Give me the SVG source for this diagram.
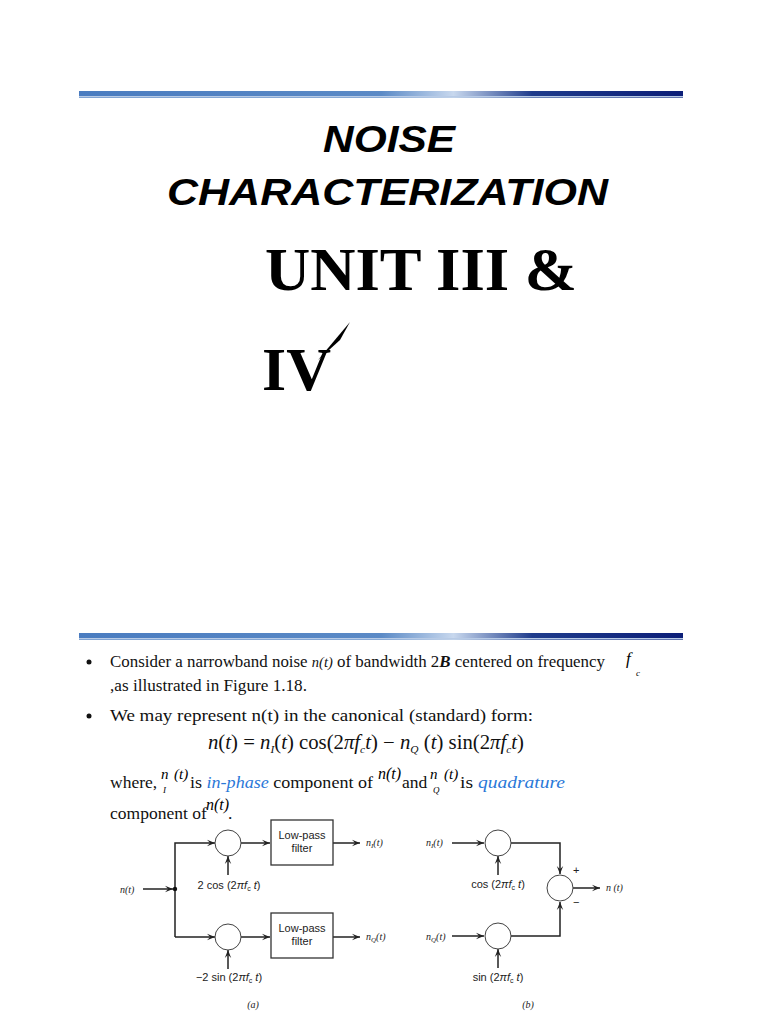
<svg xmlns="http://www.w3.org/2000/svg" width="768" height="1024" viewBox="0 0 768 1024">
<defs>
<linearGradient id="bar" x1="0" x2="1" y1="0" y2="0">
<stop offset="0" stop-color="#4a7cc0"/><stop offset="0.5" stop-color="#5b8ac6"/><stop offset="0.62" stop-color="#c8d8ee"/><stop offset="0.75" stop-color="#1f3c8c"/><stop offset="1" stop-color="#0c1e78"/>
</linearGradient>
<marker id="ah" viewBox="0 0 10 10" refX="10" refY="5" markerWidth="8" markerHeight="8" orient="auto" markerUnits="userSpaceOnUse"><path d="M0,1 L10,5 L0,9 L4,5 Z" fill="#222"/></marker>
</defs>
<style>
.t{font-family:"Liberation Serif",serif;font-size:17.5px;fill:#111}
.m{font-family:"Liberation Serif",serif;font-style:italic}
.b{font-family:"Liberation Serif",serif;font-style:italic;fill:#2a78d8}
.d{font-family:"Liberation Sans",Arial,sans-serif;font-size:11px;fill:#222}
.dl{font-family:"Liberation Serif",serif;font-style:italic;font-size:10px;fill:#222}
.ln{stroke:#222;stroke-width:1.5;fill:none}
.c{stroke:#444;stroke-width:1;fill:#fff}
.h{font-family:"Liberation Sans",Arial,sans-serif;font-weight:bold;font-style:italic;font-size:37px;fill:#000}
.u{font-family:"Liberation Serif",serif;font-weight:bold;font-size:62px;fill:#000}
</style>
<rect width="768" height="1024" fill="#fff"/>
<rect x="79" y="91" width="604" height="7" fill="url(#bar)"/>
<rect x="79" y="96" width="604" height="1.5" fill="#b8cbe6"/>
<rect x="79" y="633" width="604" height="7" fill="url(#bar)"/>
<rect x="79" y="638" width="604" height="1.5" fill="#b8cbe6"/>
<text class="h" x="323" y="152" textLength="132" lengthAdjust="spacingAndGlyphs">NOISE</text>
<text class="h" x="167" y="205" textLength="441" lengthAdjust="spacingAndGlyphs">CHARACTERIZATION</text>
<text class="u" x="265" y="290" textLength="312" lengthAdjust="spacingAndGlyphs">UNIT III &amp;</text>
<text class="u" x="262" y="390">IV</text>
<path d="M318,360 L350,322 L340,340 Z" fill="#000"/>
<circle cx="89" cy="662" r="2.5" fill="#111"/>
<text class="t" x="110" y="667" textLength="495" lengthAdjust="spacingAndGlyphs">Consider a narrowband noise <tspan class="m" font-size="15">n(t)</tspan> of bandwidth 2<tspan font-style="italic" font-weight="bold">B</tspan> centered on frequency</text>
<text class="m" x="626" y="664" font-size="17">f</text><text class="m" x="636" y="676" font-size="9">c</text>
<text class="t" x="110" y="691" textLength="197" lengthAdjust="spacingAndGlyphs">,as illustrated in Figure 1.18.</text>
<circle cx="89" cy="716" r="2.5" fill="#111"/>
<text class="t" x="110" y="721" textLength="423" lengthAdjust="spacingAndGlyphs">We may represent n(t) in the canonical (standard) form:</text>
<text x="208" y="749" font-family="Liberation Serif,serif" font-size="20" fill="#111" textLength="316" lengthAdjust="spacingAndGlyphs"><tspan font-style="italic">n</tspan>(<tspan font-style="italic">t</tspan>) = <tspan font-style="italic">n</tspan><tspan font-size="11" dy="4" font-style="italic">I</tspan><tspan dy="-4">(</tspan><tspan font-style="italic">t</tspan>) cos(2<tspan font-style="italic">πf</tspan><tspan font-size="11" dy="4" font-style="italic">c</tspan><tspan dy="-4" font-style="italic">t</tspan>) − <tspan font-style="italic">n</tspan><tspan font-size="11" dy="4" font-style="italic">Q</tspan><tspan dy="-4"> (</tspan><tspan font-style="italic">t</tspan>) sin(2<tspan font-style="italic">πf</tspan><tspan font-size="11" dy="4" font-style="italic">c</tspan><tspan dy="-4" font-style="italic">t</tspan>)</text>
<text class="t" x="110" y="788">where,</text>
<text class="m" x="161" y="779" font-size="15">n</text><text class="m" x="174" y="779" font-size="15">(t)</text><text class="m" x="163" y="793" font-size="9">I</text>
<text class="t" x="190" y="788" textLength="183" lengthAdjust="spacingAndGlyphs">is <tspan class="b">in-phase</tspan> component of</text>
<text class="m" x="378" y="779" font-size="16">n(t)</text>
<text class="t" x="402" y="788">and</text>
<text class="m" x="430" y="779" font-size="15">n</text><text class="m" x="444" y="779" font-size="15">(t)</text><text class="m" x="433" y="793" font-size="9">Q</text>
<text class="t" x="460" y="788" textLength="105" lengthAdjust="spacingAndGlyphs">is <tspan class="b">quadrature</tspan></text>
<text class="t" x="110" y="819">component of</text>
<text class="m" x="206" y="810" font-size="16">n(t)</text><text class="t" x="228" y="819">.</text>

<g id="connectors">
<line class="ln" x1="143" y1="889" x2="173" y2="889" marker-end="url(#ah)"/>
<polyline class="ln" points="175,937 175,843 215,843" marker-end="url(#ah)"/>
<polyline class="ln" points="175,937 215,937" marker-end="url(#ah)"/>
<line class="ln" x1="241" y1="843" x2="270" y2="843" marker-end="url(#ah)"/>
<line class="ln" x1="241" y1="937" x2="270" y2="937" marker-end="url(#ah)"/>
<line class="ln" x1="333" y1="843" x2="360" y2="843" marker-end="url(#ah)"/>
<line class="ln" x1="333" y1="937" x2="360" y2="937" marker-end="url(#ah)"/>
<line class="ln" x1="228" y1="875" x2="228" y2="856" marker-end="url(#ah)"/>
<line class="ln" x1="228" y1="969" x2="228" y2="950" marker-end="url(#ah)"/>
<line class="ln" x1="452" y1="843" x2="484" y2="843" marker-end="url(#ah)"/>
<line class="ln" x1="452" y1="936" x2="484" y2="936" marker-end="url(#ah)"/>
<polyline class="ln" points="511,843 560,843 560,874" marker-end="url(#ah)"/>
<polyline class="ln" points="511,936 560,936 560,902" marker-end="url(#ah)"/>
<line class="ln" x1="573" y1="888" x2="600" y2="888" marker-end="url(#ah)"/>
<line class="ln" x1="498" y1="875" x2="498" y2="856" marker-end="url(#ah)"/>
<line class="ln" x1="498" y1="968" x2="498" y2="949" marker-end="url(#ah)"/>
<circle cx="175" cy="889" r="2.2" fill="#111"/>
</g>
<g id="mix1"><circle class="c" cx="228" cy="843" r="13"/></g>
<g id="mix2"><circle class="c" cx="228" cy="937" r="13"/></g>
<g id="lpf1"><rect x="271" y="820" width="62" height="45" fill="#fff" stroke="#333" stroke-width="1.3"/><text class="d" x="302" y="839" text-anchor="middle">Low-pass</text><text class="d" x="302" y="852" text-anchor="middle">filter</text></g>
<g id="lpf2"><rect x="271" y="913" width="62" height="45" fill="#fff" stroke="#333" stroke-width="1.3"/><text class="d" x="302" y="932" text-anchor="middle">Low-pass</text><text class="d" x="302" y="945" text-anchor="middle">filter</text></g>
<text class="dl" x="120" y="893">n(t)</text>
<text class="dl" x="366" y="846">n<tspan font-size="7" dy="2">I</tspan><tspan dy="-2">(t)</tspan></text>
<text class="dl" x="366" y="940">n<tspan font-size="7" dy="2">Q</tspan><tspan dy="-2">(t)</tspan></text>
<text class="d" x="229" y="889" text-anchor="middle">2 cos (2<tspan font-style="italic">πf</tspan><tspan font-size="7" dy="2">c</tspan><tspan dy="-2" font-style="italic"> t</tspan>)</text>
<text class="d" x="229" y="981" text-anchor="middle">−2 sin (2<tspan font-style="italic">πf</tspan><tspan font-size="7" dy="2">c</tspan><tspan dy="-2" font-style="italic"> t</tspan>)</text>
<text class="dl" x="253" y="1008" text-anchor="middle">(a)</text>

<g id="mix3"><circle class="c" cx="498" cy="843" r="13"/></g>
<g id="mix4"><circle class="c" cx="498" cy="936" r="13"/></g>
<g id="sum"><circle class="c" cx="560" cy="888" r="13"/></g>
<text class="d" x="573" y="874" font-size="9">+</text>
<text class="d" x="573" y="906" font-size="9">−</text>
<text class="dl" x="426" y="846">n<tspan font-size="7" dy="2">I</tspan><tspan dy="-2">(t)</tspan></text>
<text class="dl" x="426" y="940">n<tspan font-size="7" dy="2">Q</tspan><tspan dy="-2">(t)</tspan></text>
<text class="dl" x="606" y="891">n (t)</text>
<text class="d" x="498" y="888" text-anchor="middle">cos (2<tspan font-style="italic">πf</tspan><tspan font-size="7" dy="2">c</tspan><tspan dy="-2" font-style="italic"> t</tspan>)</text>
<text class="d" x="498" y="981" text-anchor="middle">sin (2<tspan font-style="italic">πf</tspan><tspan font-size="7" dy="2">c</tspan><tspan dy="-2" font-style="italic"> t</tspan>)</text>
<text class="dl" x="528" y="1008" text-anchor="middle">(b)</text>
</svg>
